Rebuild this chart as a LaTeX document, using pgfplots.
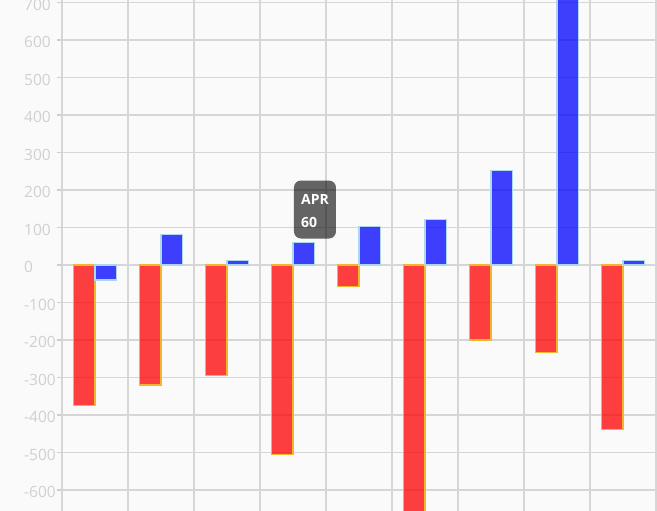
\documentclass[border=0pt]{standalone}
\usepackage{pgfplots}
\pgfplotsset{compat=1.18}
\usepackage{fontspec}
\setmainfont{Open Sans}
\definecolor{bgc}{HTML}{FAFAFA}
\definecolor{gridc}{HTML}{CFCFCF}
\definecolor{gridthin}{HTML}{D6D6D6}
\definecolor{labc}{HTML}{D0D0D0}
\definecolor{redline}{RGB}{247,181,41}
\definecolor{blueline}{RGB}{173,216,235}
\begin{document}
\begin{tikzpicture}
\path[use as bounding box] (0,0) rectangle (657pt,511pt);
\clip (0,0) rectangle (657pt,511pt);
\fill[bgc] (0,0) rectangle (657pt,511pt);
\begin{axis}[
    at={(62pt,0pt)}, anchor=south west,
    scale only axis,
    width=595pt, height=511pt,
    xmin=0, xmax=9.015,
    ymin=-656, ymax=706.7,
    clip=false,
    axis line style={draw=none},
    ybar=0pt, bar width=21.5pt,
    xtick={0,1,...,9},
    xticklabels={},
    xtick style={draw=none},
    ytick={-600,-500,...,700},
    tick align=outside,
    major tick length=5pt,
    ytick style={draw=gridc, line width=1.2pt},
    grid=major,
    major grid style={draw=gridthin, line width=1.1pt},
    extra x ticks={0,5},
    extra x tick labels={},
    extra x tick style={grid style={draw=gridc, line width=2pt}},
    extra y ticks={-500,-300,-100,0,100,300,500,700},
    extra y tick labels={},
    extra y tick style={grid style={draw=gridc, line width=1.7pt}},
    /pgf/number format/assume math mode=true,
    yticklabel style={font=\fontsize{15.5}{18}\selectfont, text=labc,
        anchor=west, inner sep=0pt, xshift=-33pt, yshift=-2pt},
]
\addplot[fill=red, fill opacity=0.75, draw=redline, line width=1.4pt]
    coordinates {(0.5,-375)(1.5,-320)(2.5,-295)(3.5,-505)(4.5,-57)
                 (5.5,-720)(6.5,-200)(7.5,-233)(8.5,-438)};
\addplot[fill=blue, fill opacity=0.75, draw=blueline, line width=1.4pt]
    coordinates {(0.5,-40)(1.5,81)(2.5,12)(3.5,60)(4.5,102)
                 (5.5,121)(6.5,252)(7.5,780)(8.5,12)};
\node[fill=black, fill opacity=0.6, rounded corners=7pt,
      minimum width=42pt, minimum height=58pt, inner sep=0pt]
    at (axis cs:3.833,148) {};
\node[anchor=north west, inner sep=0pt, align=left, text=white,
      font=\bfseries\fontsize{14}{23}\selectfont]
    at (axis cs:3.621,189.3) {APR\\60};
\end{axis}
\end{tikzpicture}
\end{document}
